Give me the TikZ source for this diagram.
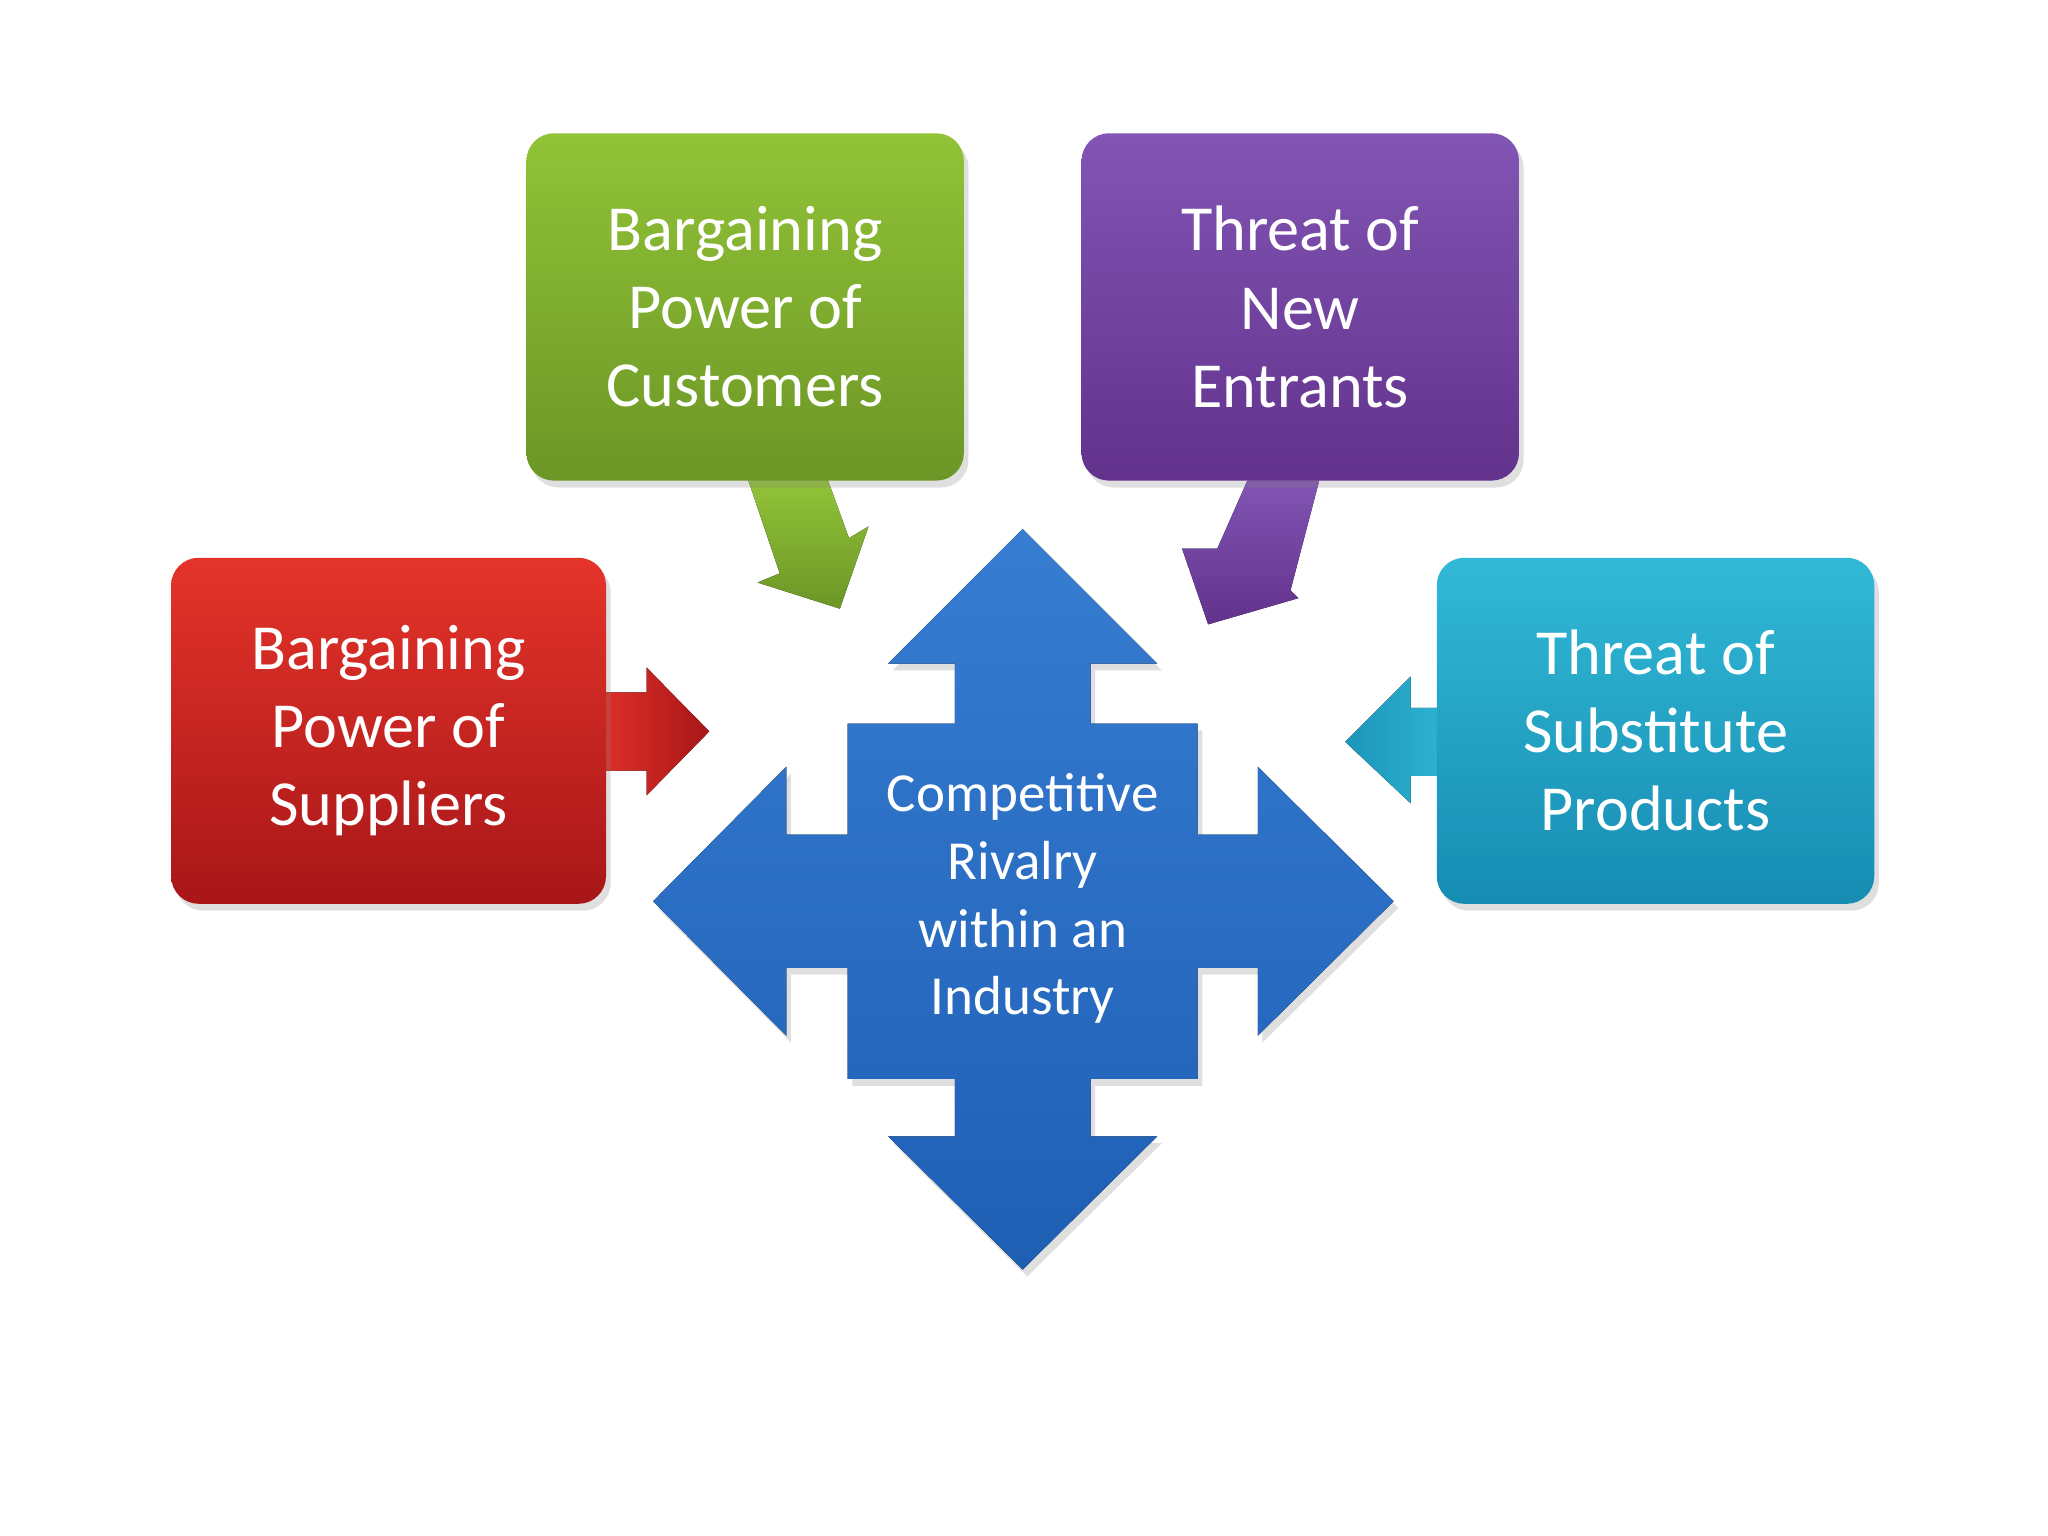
\documentclass[tikz,border=0pt]{standalone}
\usepackage{fontspec}
\setmainfont{Carlito}
\usetikzlibrary{shadows}
\definecolor{gT}{RGB}{145,195,55}\definecolor{gB}{RGB}{108,150,38}
\definecolor{pT}{RGB}{130,85,180}\definecolor{pB}{RGB}{98,50,140}
\definecolor{rT}{RGB}{228,52,42}\definecolor{rB}{RGB}{168,22,24}
\definecolor{cT}{RGB}{50,185,215}\definecolor{cB}{RGB}{22,140,178}
\definecolor{bT}{RGB}{55,125,210}\definecolor{bB}{RGB}{30,95,180}
\tikzset{
 box/.style={rounded corners=12pt,minimum width=6.7cm,minimum height=5.32cm,align=center,text=white,font=\fontsize{28}{34}\selectfont,inner sep=0pt,drop shadow={opacity=0.25,shadow xshift=2pt,shadow yshift=-3pt}},
 blk/.style={draw=none}
}
\begin{document}
\begin{tikzpicture}[x=0.02cm,y=-0.02cm]
\useasboundingbox (0,0) rectangle (1568,1176);
\fill[white] (0,0) rectangle (1568,1176);
% block arrows
\fill[top color=gT,bottom color=gB] (573,368) -- (634,368) -- (650,412) -- (665,403) -- (643,466) -- (580,446) -- (597,439) -- cycle;
\fill[top color=pT,bottom color=pB] (955,368) -- (1010,368) -- (988,452) -- (994,458) -- (925,478) -- (905,420) -- (932,420) -- cycle;
\fill[left color=rT,right color=rB] (450,530) -- (495,530) -- (495,511) -- (543,560) -- (495,609) -- (495,590) -- (450,590) -- cycle;
\fill[right color=cT,left color=cB!80!cT] (1120,542) -- (1080,542) -- (1080,518) -- (1030,568) -- (1080,615) -- (1080,594) -- (1120,594) -- cycle;
% center cross
\fill[top color=bT,bottom color=bB,drop shadow={opacity=0.25,shadow xshift=2pt,shadow yshift=-3pt}]
 (783,405) -- (886,508) -- (835,508) -- (835,554) -- (917,554) -- (917,639) -- (963,639) -- (963,587) -- (1067,690) -- (963,793) -- (963,741) -- (917,741) -- (917,826) -- (835,826) -- (835,870) -- (886,870) -- (783,972) -- (680,870) -- (731,870) -- (731,826) -- (649,826) -- (649,741) -- (602,741) -- (602,793) -- (500,690) -- (602,587) -- (602,639) -- (649,639) -- (649,554) -- (731,554) -- (731,508) -- (680,508) -- cycle;
\node[align=center,text=white,font=\fontsize{24}{29.5}\selectfont] (center) at (783,688) {Competitive\\Rivalry\\within an\\Industry};
% boxes
\node[box,top color=gT,bottom color=gB] (cust) at (570.5,235) {Bargaining\\Power of\\Customers};
\node[box,top color=pT,bottom color=pB] (new) at (995.5,235) {Threat of\\New\\Entrants};
\node[box,top color=rT,bottom color=rB,minimum width=6.66cm,minimum height=5.3cm] (supp) at (297.5,559.5) {Bargaining\\Power of\\Suppliers};
\node[box,top color=cT,bottom color=cB,minimum width=6.7cm,minimum height=5.3cm] (subs) at (1267.5,559.5) {Threat of\\Substitute\\Products};
\end{tikzpicture}
\end{document}
